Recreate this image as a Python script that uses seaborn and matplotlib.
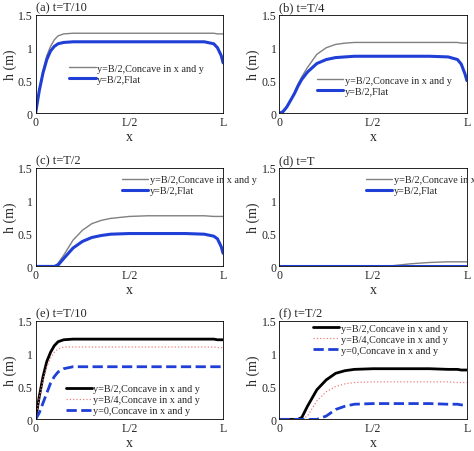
import numpy as np
import pandas as pd
import matplotlib
matplotlib.use("Agg")
import matplotlib.pyplot as plt
import seaborn as sns

# x positions as fraction of L
x_frac = [0, 0.02, 0.04, 0.06, 0.08, 0.1, 0.12, 0.15, 0.2, 0.25, 0.3, 0.35,
          0.4, 0.5, 0.6, 0.7, 0.8, 0.9, 0.95, 0.97, 0.99, 1.0]

a_concave = [0, 0.35, 0.65, 0.88, 1.02, 1.12, 1.18, 1.21, 1.22, 1.22, 1.22, 1.22,
             1.22, 1.22, 1.22, 1.22, 1.22, 1.22, 1.22, 1.21, 1.21, 1.21]
a_flat = [0, 0.35, 0.62, 0.82, 0.95, 1.02, 1.06, 1.08, 1.09, 1.09, 1.09, 1.09,
          1.09, 1.09, 1.09, 1.09, 1.09, 1.09, 1.06, 1.0, 0.88, 0.77]
b_concave = [0, 0.03, 0.1, 0.2, 0.32, 0.45, 0.56, 0.7, 0.9, 1.0, 1.05, 1.07,
             1.08, 1.08, 1.08, 1.08, 1.08, 1.08, 1.08, 1.07, 1.07, 1.07]
b_flat = [0, 0.03, 0.1, 0.2, 0.3, 0.42, 0.52, 0.63, 0.76, 0.82, 0.85, 0.86,
          0.87, 0.87, 0.87, 0.87, 0.87, 0.86, 0.82, 0.75, 0.6, 0.5]
c_concave = [0, 0, 0, 0, 0, 0, 0.05, 0.17, 0.4, 0.55, 0.65, 0.7,
             0.73, 0.76, 0.77, 0.77, 0.77, 0.77, 0.76, 0.76, 0.76, 0.76]
c_flat = [0, 0, 0, 0, 0, 0, 0.02, 0.12, 0.28, 0.38, 0.44, 0.47,
          0.49, 0.5, 0.5, 0.5, 0.5, 0.49, 0.46, 0.42, 0.3, 0.2]
d_concave = [0, 0, 0, 0, 0, 0, 0, 0, 0, 0, 0, 0,
             0, 0, 0.01, 0.04, 0.06, 0.07, 0.07, 0.07, 0.07, 0.07]
d_flat = [0] * 22
e_b2 = a_concave
e_b4 = [0, 0.33, 0.6, 0.8, 0.93, 1.02, 1.07, 1.1, 1.1, 1.1, 1.1, 1.1,
        1.1, 1.1, 1.1, 1.1, 1.1, 1.1, 1.1, 1.09, 1.09, 1.09]
e_y0 = [0, 0.1, 0.25, 0.4, 0.55, 0.65, 0.72, 0.77, 0.8, 0.8, 0.8, 0.8,
        0.8, 0.8, 0.8, 0.8, 0.8, 0.8, 0.8, 0.8, 0.8, 0.8]
f_b2 = [0, 0, 0, 0, 0, 0, 0.03, 0.2, 0.45, 0.6, 0.7, 0.74,
        0.76, 0.77, 0.77, 0.77, 0.77, 0.76, 0.76, 0.75, 0.75, 0.75]
f_b4 = [0, 0, 0, 0, 0, 0, 0, 0.05, 0.28, 0.42, 0.5, 0.54,
        0.56, 0.57, 0.57, 0.57, 0.57, 0.57, 0.56, 0.56, 0.56, 0.56]
f_y0 = [0, 0, 0, 0, 0, 0, 0, 0, 0, 0.05, 0.15, 0.2,
        0.23, 0.24, 0.24, 0.24, 0.24, 0.23, 0.23, 0.22, 0.22, 0.22]

titles = ['(a) t=T/10', '(b) t=T/4', '(c) t=T/2', '(d) t=T', '(e) t=T/10', '(f) t=T/2']
lab_c = 'y=B/2,Concave in x and y'
lab_f = 'y=B/2,Flat'
lab_b4 = 'y=B/4,Concave in x and y'
lab_y0 = 'y=0,Concave in x and y'

sns.set_style("white")
plt.rcParams['font.family'] = ['Liberation Serif', 'DejaVu Serif']
plt.rcParams['font.size'] = 9

fig, axes = plt.subplots(3, 2, figsize=(4.74, 4.52), dpi=100)
fig.subplots_adjust(left=0.075, right=0.985, top=0.965, bottom=0.07, wspace=0.3, hspace=0.55)
axs = axes.ravel()

leg_kw = dict(frameon=False, fontsize=7.3, handlelength=2.6, borderpad=0,
              labelspacing=0.2, handletextpad=0.15, borderaxespad=0)
gray = dict(color='#808080', lw=1.0)
blue = dict(color='#1f3fd6', lw=2.2)
pairs = [(a_concave, a_flat), (b_concave, b_flat), (c_concave, c_flat), (d_concave, d_flat)]
legend_locs = [(0.18, 0.3), (0.2, 0.18), (0.46, 0.72), (0.46, 0.72)]
for i, (cv, fl) in enumerate(pairs):
    ax = axs[i]
    sns.lineplot(x=x_frac, y=cv, ax=ax, label=lab_c, **gray)
    sns.lineplot(x=x_frac, y=fl, ax=ax, label=lab_f, **blue)
    ax.legend(loc='lower left', bbox_to_anchor=legend_locs[i], **leg_kw)

sns.lineplot(x=x_frac, y=e_b2, ax=axs[4], color='black', lw=2, label=lab_c)
sns.lineplot(x=x_frac, y=e_b4, ax=axs[4], color='#f08080', lw=0.9, linestyle=':', label=lab_b4)
sns.lineplot(x=x_frac, y=e_y0, ax=axs[4], color='#1f3fd6', lw=2, linestyle='--', label=lab_y0)
axs[4].legend(loc='lower left', bbox_to_anchor=(0.16, 0.04), **leg_kw)
sns.lineplot(x=x_frac, y=f_b2, ax=axs[5], color='black', lw=2, label=lab_c)
sns.lineplot(x=x_frac, y=f_b4, ax=axs[5], color='#f08080', lw=0.9, linestyle=':', label=lab_b4)
sns.lineplot(x=x_frac, y=f_y0, ax=axs[5], color='#1f3fd6', lw=2, linestyle='--', label=lab_y0)
axs[5].legend(loc='upper left', bbox_to_anchor=(0.18, 0.97), **leg_kw)

for ax, t in zip(axs, titles):
    ax.set_xlim(0, 1)
    ax.set_ylim(0, 1.5)
    ax.set_xticks([0, 0.5, 1])
    ax.set_xticklabels(['0', 'L/2', 'L'])
    ax.set_yticks([0, 0.5, 1, 1.5])
    ax.set_yticklabels(['0', '0.5', '1', '1.5'])
    ax.set_xlabel('x', fontsize=10, labelpad=1)
    ax.set_ylabel('h (m)', fontsize=10, labelpad=1)
    ax.tick_params(labelsize=8.5, pad=2, length=2, direction='in')
    ax.text(0.0, 1.015, t, transform=ax.transAxes, fontsize=9, va='bottom', ha='left')
    for s in ax.spines.values():
        s.set_color('black')
        s.set_linewidth(0.6)

fig.savefig('out.png', dpi=100)
